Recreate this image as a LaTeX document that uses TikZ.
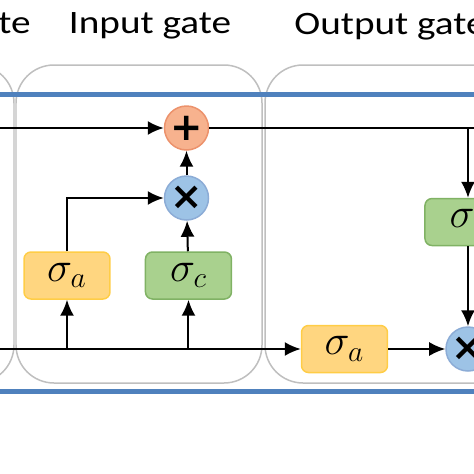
\documentclass[tikz,border=0pt]{standalone}
\usepackage{fix-cm}
\usepackage{fontspec}
\usetikzlibrary{positioning, arrows.meta}
\newfontfamily\gatefont[FakeStretch=1.2]{Carlito}
\newfontfamily\opfont{DejaVu Sans}
\definecolor{railblue}{RGB}{79,129,189}
\definecolor{framegray}{RGB}{191,191,191}
\definecolor{addfill}{RGB}{247,178,142}
\definecolor{addline}{RGB}{236,146,108}
\definecolor{mulfill}{RGB}{157,195,230}
\definecolor{mulline}{RGB}{140,172,214}
\definecolor{afill}{RGB}{255,214,128}
\definecolor{aline}{RGB}{255,205,70}
\definecolor{cfill}{RGB}{169,209,142}
\definecolor{cline}{RGB}{128,178,100}

\begin{document}
\begin{tikzpicture}[
    x=0.02cm, y=-0.02cm,
    % gate frames and rails
    gateframe/.style={draw=framegray, line width=0.03cm, rounded corners=0.76cm},
    rail/.style={draw=railblue, line width=0.1cm},
    title/.style={font=\gatefont\fontsize{18.6}{22}\selectfont, inner sep=0pt},
    % activation boxes and operators
    sigbox/.style={
        draw,
        rectangle,
        rounded corners=0.14cm,
        line width=0.03cm,
        minimum width=1.72cm,
        minimum height=0.94cm,
        inner sep=0pt,
        font=\fontsize{24}{28}\selectfont
    },
    opnode/.style={
        draw,
        circle,
        line width=0.03cm,
        minimum size=0.88cm,
        inner sep=-4pt,
        font=\opfont\bfseries\fontsize{22}{22}\selectfont
    },
    arr/.style={->, >={Latex[length=0.32cm,width=0.28cm]}, line width=0.04cm}
]
\useasboundingbox (0,0) rectangle (474,474);
\clip (0,0) rectangle (474,474);

% gate frames
\draw[gateframe] (-300,65) rectangle (14,383);
\draw[gateframe] (16,65) rectangle (262,383);
\draw[gateframe] (265,65) rectangle (600,383);

% rails
\draw[rail] (0,94) -- (474,94);
\draw[rail] (0,391) -- (474,391);

% titles
\node[title, anchor=base east] (forget) at (31,33) {Forget gate};
\node[title, anchor=base] (input) at (150,33) {Input gate};
\node[title, anchor=base west] (output) at (294,34) {Output gate};

% input gate
\node[sigbox, fill=afill, draw=aline] (ia) at (67,275.5) {$\sigma_a$};
\node[sigbox, fill=cfill, draw=cline, right=0.68cm of ia] (ic) {$\sigma_c$};
\node[opnode, fill=mulfill, draw=mulline] (imul) at (186.5,198) {×};
\node[opnode, fill=addfill, draw=addline] (iadd) at (186.5,128) {+};

% output gate
\node[sigbox, fill=afill, draw=aline] (oa) at (344.5,349) {$\sigma_a$};
\node[opnode, fill=mulfill, draw=mulline, right=1.14cm of oa] (omul) {×};
\node[sigbox, fill=cfill, draw=cline, above=1.6cm of omul] (oc) {$\sigma_c$};

\coordinate (cin) at (0,128);
\coordinate (cend) at (600,128);
\coordinate (hin) at (0,349);

% cell state
\draw[arr] (cin) -- (iadd);
\draw[line width=0.04cm] (iadd) -- (cend);
\draw[arr] (oc.north |- iadd) -- (oc);

% input path
\draw[arr] (hin) -- (oa);
\draw[arr] (ia.south |- hin) -- (ia);
\draw[arr] (ic.south |- hin) -- (ic);
\draw[arr] (ia.north) |- (imul.west);
\draw[arr] (ic) -- (imul);
\draw[arr] (imul) -- (iadd);

% output path
\draw[arr] (oa) -- (omul);
\draw[arr] (oc) -- (omul);

\end{tikzpicture}
\end{document}
